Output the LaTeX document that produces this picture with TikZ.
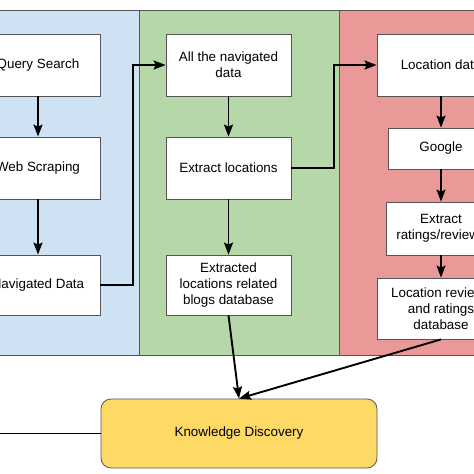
\documentclass[tikz,border=0pt]{standalone}
\usepackage{fontspec}
\setmainfont{Liberation Sans}
\usetikzlibrary{arrows.meta}
\definecolor{panelblue}{HTML}{CFE2F3}
\definecolor{panelgreen}{HTML}{B6D7A8}
\definecolor{panelred}{HTML}{EA9999}
\definecolor{kdyellow}{HTML}{FFD966}
\definecolor{edgegrey}{HTML}{555555}

\begin{document}
\begin{tikzpicture}[x=1pt, y=-1pt]
\tikzset{every node/.style={font=\fontsize{13.4}{16}\selectfont, align=center},
    stepbox/.style={draw=edgegrey, line width=0.8pt, fill=white, minimum width=125pt, minimum height=62pt, inner sep=2pt},
    arr/.style={-{Stealth[length=12pt, width=9pt, inset=2pt]}, line width=1.9pt}}
    \useasboundingbox (0, 0) rectangle (474, 474);
    \clip (0, 0) rectangle (474, 474);
    \fill[white] (0, 0) rectangle (474, 474);

    \draw[edgegrey, fill=panelblue] (-40, 10) rectangle (139, 355);
    \draw[edgegrey, fill=panelgreen] (139, 10) rectangle (339, 355);
    \draw[edgegrey, fill=panelred] (339, 10) rectangle (520, 355);

    \node[stepbox, minimum width=124pt] (qs) at (38, 65) {Query Search};
    \node[stepbox, minimum width=124pt] (ws) at (38, 168) {Web Scraping};
    \node[stepbox, minimum width=124pt, minimum height=60pt] (nd) at (38, 285) {Navigated Data};

    \node[stepbox] (an) at (228.5, 65) {All the navigated\\data};
    \node[stepbox] (el) at (228.5, 168) {Extract locations};
    \node[stepbox, minimum height=60pt] (eb) at (228.5, 285) {Extracted\\locations related\\blogs database};

    \node[stepbox, minimum width=128pt] (ld) at (441, 65) {Location data};
    \node[stepbox, minimum width=106pt, minimum height=41pt] (gg) at (441, 148.5) {Google};
    \node[stepbox, minimum width=110pt, minimum height=53pt] (er) at (441, 228.5) {Extract\\ratings/reviews};
    \node[stepbox, minimum width=128pt, minimum height=61pt] (lr) at (441, 308.5) {Location reviews\\and ratings\\database};

    \node[stepbox, fill=kdyellow, rounded corners=10pt, minimum width=276pt, minimum height=69pt] (kd) at (239, 433.5) {Knowledge Discovery};
    \coordinate (lft) at (0, 433.5);

    \draw[arr] (qs) -- (ws);
    \draw[arr] (ws) -- (nd);
    \draw[arr] (nd.east) -- ++(33, 0) |- (an.west);
    \draw[arr] (an) -- (el);
    \draw[arr] (el) -- (eb);
    \draw[arr] (el.east) -- ++(43, 0) |- (ld.west);
    \draw[arr] (ld) -- (gg);
    \draw[arr] (gg) -- (er);
    \draw[arr] (er) -- (lr);
    \draw[arr] (eb.south) -- (kd.north);
    \draw[arr] (lr.south) -- (kd.north);
    \draw[line width=1.6pt] (lft) -- (kd.west);
\end{tikzpicture}
\end{document}
